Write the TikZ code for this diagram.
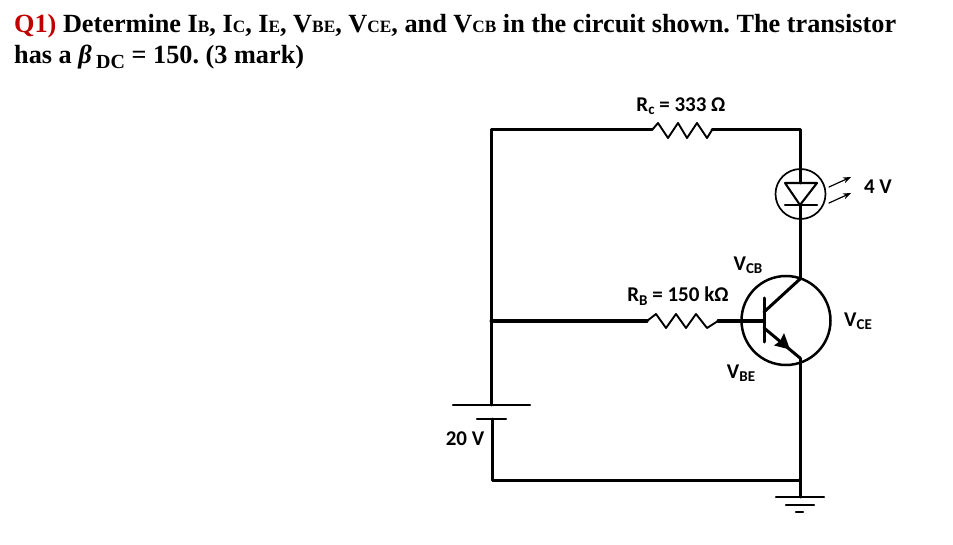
\documentclass[tikz,border=0pt]{standalone}
\usepackage{fontspec}
\setmainfont{Liberation Serif}
\newfontfamily\lblfont{Carlito}
\usetikzlibrary{arrows.meta}
\definecolor{qred}{RGB}{192,0,0}
\newcommand{\hsub}[1]{{\fontsize{17.3}{17.3}\selectfont #1}}
\newcommand{\lsub}[1]{\raisebox{-3.5pt}{\fontsize{15}{15}\selectfont #1}}
\frenchspacing
\tikzset{
  wire/.style={line width=3pt, line cap=round, line join=round},
  thinwire/.style={line width=1.9pt, line cap=round, line join=round},
  title/.style={anchor=base west, inner sep=0pt, font=\fontsize{26.25}{26.25}\selectfont\bfseries},
  lbl/.style={inner sep=0pt, font=\lblfont\fontsize{21}{21}\selectfont\bfseries}
}
\begin{document}
\begin{tikzpicture}[x=1pt,y=-1pt]
\useasboundingbox (0,0) rectangle (953,545);
\node[title] (line1) at (14,33){\textcolor{qred}{Q1)} Determine I\hsub{B}, I\hsub{C}, I\hsub{E}, V\hsub{BE}, V\hsub{CE}, and V\hsub{CB} in the circuit shown. The transistor};
\node[title] (line2) at (14,64){has a \textit{β}\,\raisebox{-5pt}{\fontsize{20}{20}\selectfont DC} = 150. (3 mark)};
\coordinate (tl) at (491,130);
\coordinate (tr) at (800,130);
\coordinate (rcl) at (652,130);
\coordinate (rcr) at (712,130);
\coordinate (ml) at (491,321);
\coordinate (rbl) at (647,321);
\coordinate (rbr) at (718,321);
\coordinate (base) at (764,321);
\coordinate (bar1) at (764,298);
\coordinate (bar2) at (764,342);
\coordinate (cin) at (764,312);
\coordinate (ein) at (764,328);
\coordinate (col) at (800,279);
\coordinate (emi) at (800,358);
\coordinate (batp) at (491,405);
\coordinate (batn) at (492,419);
\coordinate (bl) at (492,480);
\coordinate (br) at (800,480);
\coordinate (gnd) at (800,497);
\coordinate (ledin) at (800,183);
\coordinate (ledout) at (800,205);
\coordinate (a1s) at (829,187);
\coordinate (a1e) at (851,177);
\coordinate (a2s) at (829,203);
\coordinate (a2e) at (851,193);
% wires
\draw[wire](rcl) -- (tl) -- (batp);
\draw[wire](rcr) -- (tr) -- (ledin);
\draw[wire](ml) -- (rbl);
\draw[wire](rbr) -- (base);
\draw[wire](ledout) -- (col);
\draw[wire](batn) -- (bl) -- (br);
\draw[wire](emi) -- (gnd);
% resistors
\draw[thinwire](rcl) -- ++(6,-7) -- ++(10,15) -- ++(10,-15) -- ++(9,15) -- ++(10,-15) -- ++(10,15) -- (rcr);
\draw[thinwire](rbl) -- ++(9,-7) -- ++(10,14) -- ++(10,-14) -- ++(10,14) -- ++(10,-14) -- ++(11,14) -- (rbr);
% led
\node[draw, circle, line width=1.7pt, minimum size=50pt, inner sep=0pt] (led) at (800.5,194){};
\draw[thinwire, line width=2.1pt](785,183) -- (817,183) -- (ledout) -- cycle;
\draw[thinwire, line width=2.1pt](785,205) -- (817,205);
\draw[thinwire, line width=1.2pt, -{Stealth[length=8pt,width=6pt]}](a1s) -- (a1e);
\draw[thinwire, line width=1.2pt, -{Stealth[length=8pt,width=6pt]}](a2s) -- (a2e);
% transistor
\node[draw, circle, line width=2.5pt, minimum size=89pt, inner sep=0pt] (bjt) at (786,320.5){};
\draw[wire](bar1) -- (bar2);
\draw[wire](cin) -- (col);
\draw[wire](ein) -- (emi);
\fill[black](790,349.5) -- (774,345.5) -- (780,341) -- (784,333) -- cycle;
% battery
\draw[wire, line width=2.2pt](453,405) -- (530,405);
\draw[wire, line width=2.2pt](477,419) -- (506,419);
% ground
\draw[wire, line width=2.2pt](776,497) -- (824,497);
\draw[wire, line width=2.2pt](786,505) -- (814,505);
\draw[wire, line width=2.2pt](796,512) -- (803,512);
% labels
\node[lbl] (rclbl) at (681,106){R\lsub{c} = 333 Ω};
\node[lbl] (rblbl) at (678,296){R\lsub{B} = 150 kΩ};
\node[lbl] (ledlbl) at (878,187){4 V};
\node[lbl] (vcb) at (748,265){V\lsub{CB}};
\node[lbl] (vce) at (858,321){V\lsub{CE}};
\node[lbl] (vbe) at (741,373){V\lsub{BE}};
\node[lbl] (batlbl) at (465,439){20 V};
\end{tikzpicture}
\end{document}
